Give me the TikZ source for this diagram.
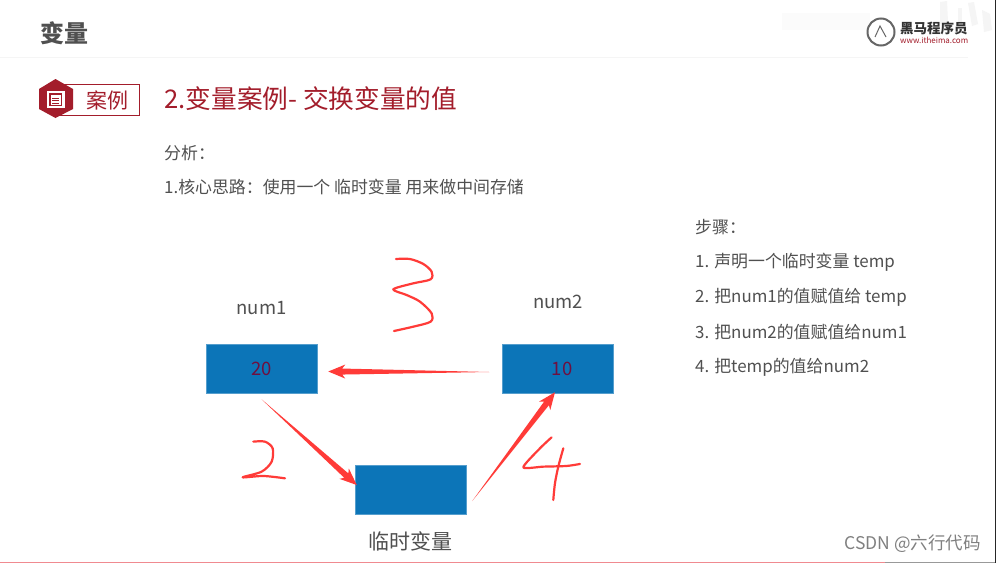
\documentclass[tikz,border=0pt]{standalone}
\usepackage{fontspec}
\setmainfont{Noto Sans CJK SC}
\usetikzlibrary{calc}
\definecolor{boxblue}{HTML}{0C75B8}
\definecolor{brandred}{HTML}{A31D2B}
\definecolor{bodygray}{HTML}{505050}
\definecolor{inkred}{HTML}{FF3B38}
\definecolor{valred}{HTML}{6E1040}
\definecolor{linepink}{HTML}{F08A90}
\tikzset{
  valbox/.style={fill=boxblue,draw=boxblue!70!white,line width=.5pt,minimum width=111pt,minimum height=49pt,inner sep=0pt,font=\fontsize{18.5}{20}\selectfont,text=valred},
  bodytext/.style={anchor=west,inner sep=0pt,text=bodygray,font=\fontsize{16.9}{18}\selectfont},
  labeltext/.style={inner sep=0pt,text=bodygray,font=\fontsize{18.5}{20}\selectfont},
  hand/.style={draw=inkred,line width=2.2pt,line cap=round,line join=round},
}
\newcommand{\taperarrow}[2]{%
  \path coordinate (n) at ($(#2)!14pt!(#1)$) coordinate (w) at ($(#2)!17pt!(#1)$);
  \fill[inkred] (#1) -- ($(n)!3pt!90:(#2)$) -- ($(w)!7pt!90:(#2)$) -- (#2)
     -- ($(w)!7pt!-90:(#2)$) -- ($(n)!3pt!-90:(#2)$) -- cycle;
}
\begin{document}
\begin{tikzpicture}[x=1pt,y=-1pt]
\useasboundingbox (0,0) rectangle (996,563);
\fill[white] (0,0) rectangle (996,563);
% page frame
\draw[black!4,line width=1pt] (0,57) -- (968,57);
\fill[black!85] (995,0) rectangle (996,563);
\fill[linepink] (0,561.5) rectangle (885,563);
\fill[gray!80] (885,561.5) rectangle (995,563);
% header
\node[anchor=west,inner sep=0pt,text=bodygray,font=\fontsize{24}{28}\selectfont\bfseries] (head) at (40,33) {变量};
% faint watermark
\fill[black!4] (940,2) -- (947,1) -- (948,22) -- (940,24) -- cycle;
\fill[black!4] (958,8) rectangle (962,24);
\fill[black!4] (968,3) -- (974,2) -- (978,24) -- (972,26) -- cycle;
\fill[black!4] (982,10) -- (990,14) -- (992,30) -- (984,32) -- cycle;
\fill[black!1.5] (782,13) rectangle (870,30);
% logo
\draw[black!60,line width=2pt,fill=white] (881,32) circle (13.5pt);
\draw[black!60,line width=1pt] (875,37) -- (880,26) -- (886,37);
\node[anchor=west,inner sep=0pt,text=black!80,font=\fontsize{13.5}{15}\selectfont\bfseries] (logo) at (900,28) {黑马程序员};
\node[anchor=west,inner sep=0pt,text=brandred,font=\fontsize{8}{10}\selectfont] (url) at (900,40.5) {www.itheima.com};
% badge
\draw[brandred,line width=1pt,fill=white] (58,84) rectangle (139,115);
\fill[brandred] (55.5,79) -- (73,89) -- (73,109) -- (55.5,118) -- (39,109) -- (39,89) -- cycle;
\fill[white] (47,91) rectangle (65,108);
\fill[brandred] (49,93) rectangle (62,106);
\fill[white] (50.5,95) rectangle (60.5,104.5);
\draw[brandred,line width=.9pt] (52,98) -- (59,98) (52,100.5) -- (59,100.5) (52,103) -- (59,103);
\node[inner sep=0pt,text=brandred,font=\fontsize{21}{24}\selectfont] (badge) at (107,100) {案例};
\node[anchor=west,inner sep=0pt,text=brandred,font=\fontsize{25.7}{28}\selectfont] (title) at (164,99) {2.变量案例- 交换变量的值};
% analysis
\node[bodytext] (an) at (164,153) {分析：};
\node[bodytext] (core) at (164,187) {1.核心思路：使用一个 临时变量 用来做中间存储};
% steps
\node[bodytext] (s0) at (695,227) {步骤：};
\node[bodytext] (s1) at (695,262) {1. 声明一个临时变量 temp};
\node[bodytext] (s2) at (695,297) {2. 把num1的值赋值给 temp};
\node[bodytext] (s3) at (695,332) {3. 把num2的值赋值给num1};
\node[bodytext] (s4) at (695,367) {4. 把temp的值给num2};
% boxes
\node[valbox] (a) at (261.5,368.5) {20};
\node[valbox] (b) at (558,368.5) {\hspace{8pt}10};
\node[valbox] (t) at (410.5,489.5) {};
\node[labeltext] (la) at (261.5,308) {num1};
\node[labeltext] (lb) at (558,302) {num2};
\node[labeltext,font=\fontsize{21}{24}\selectfont] (lt) at (410,541) {临时变量};
% arrows
\coordinate (b3) at ($(b.west)+(-13,3.5)$);
\coordinate (a3) at ($(a.east)+(11,3)$);
\taperarrow{b3}{a3}
\coordinate (a2) at ($(a.south)+(0,6)$);
\coordinate (t2) at ($(t.west)+(2,-4.5)$);
\taperarrow{a2}{t2}
\coordinate (t4) at ($(t.east)+(6,11.5)$);
\coordinate (b4) at ($(b.south)+(-3,-1)$);
\taperarrow{t4}{b4}
% handwritten digits
\begin{scope}[shift={(190,240)},x=.3333pt,y=-.3333pt]
\draw[hand] plot[smooth,tension=.5] coordinates {(618,57)(660,57)(700,72)(725,95)(722,118)(670,130)(610,148)(650,165)(690,185)(725,220)(722,245)(670,260)(612,273)};
\draw[hand] plot[smooth,tension=.5] coordinates {(190,605)(225,605)(248,625)(245,665)(215,695)(158,712)(220,708)(285,715)};
\draw[hand] plot[smooth,tension=.4] coordinates {(1085,592)(1050,625)(1000,682)(1060,680)(1130,678)(1170,672)};
\draw[hand] plot[smooth,tension=.5] coordinates {(1120,625)(1105,680)(1095,730)(1090,780)};
\end{scope}
% watermark
\node[anchor=east,inner sep=0pt,text=black!50,font=\fontsize{17.5}{18}\selectfont] (csdn) at (981,544) {CSDN @六行代码};
\end{tikzpicture}
\end{document}
